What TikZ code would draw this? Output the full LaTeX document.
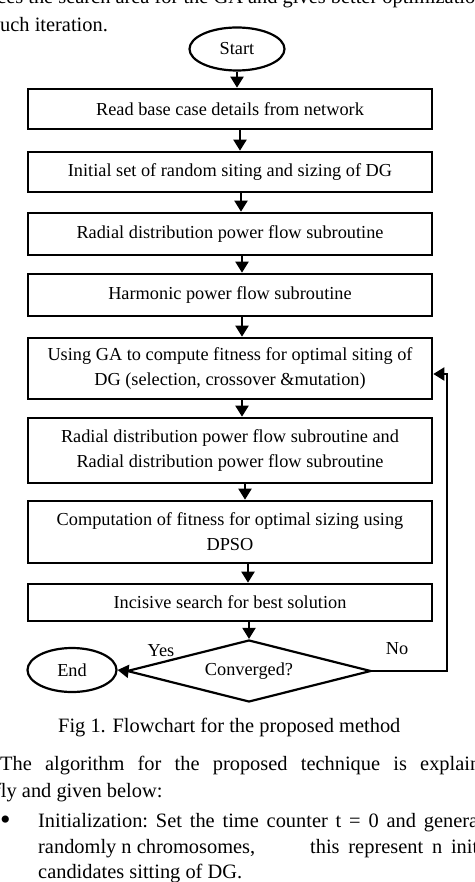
\documentclass[tikz,border=0pt]{standalone}
\usepackage{fontspec}
\setmainfont{Liberation Serif}
\usetikzlibrary{arrows.meta,shapes.geometric}
\tikzset{
  boxtxt/.style={font=\fontsize{18.3}{25}\selectfont},
  body/.style={font=\fontsize{20.4}{26}\selectfont, inner sep=0pt, anchor=base west},
  stepbox/.style={draw, line width=2.6pt, minimum width=404pt, inner sep=0pt, align=center, boxtxt},
  term/.style={draw, ellipse, line width=2.2pt, inner sep=0pt, boxtxt},
  dec/.style={draw, diamond, line width=2.2pt, inner sep=0pt, minimum width=244pt, minimum height=62pt, aspect=3.9, boxtxt},
  arr/.style={line width=2pt, -{Triangle[length=11pt,width=13pt]}},
  lbl/.style={inner sep=0pt, boxtxt}
}
\begin{document}
\begin{tikzpicture}[x=1pt,y=-1pt]
\useasboundingbox (0,0) rectangle (474,882);
\clip (0,0) rectangle (474,882);
\fill[white] (0,0) rectangle (474,882);
% surrounding page text
\node[body] (t1) at (-3,4) {ces the search area for the GA and gives better optimization};
\node[body] (t2) at (0,32) {uch iteration.};
% flowchart
\node[term, minimum width=95pt, minimum height=43pt] (start) at (237,49) {Start};
\node[stepbox, minimum height=40pt] (b1) at (230,109) {Read base case details from network};
\node[stepbox, minimum height=40pt] (b2) at (230,172) {Initial set of random siting and sizing of DG};
\node[stepbox, minimum height=42pt] (b3) at (230,234) {Radial distribution power flow subroutine};
\node[stepbox, minimum height=42pt] (b4) at (230,295) {Harmonic power flow subroutine};
\node[stepbox, minimum height=61pt] (b5) at (230,368.5) {Using GA to compute fitness for optimal siting of\\DG (selection, crossover \&mutation)};
\node[stepbox, minimum height=65pt] (b6) at (230,450.5) {Radial distribution power flow subroutine and\\Radial distribution power flow subroutine};
\node[stepbox, minimum height=62pt] (b7) at (230,532) {Computation of fitness for optimal sizing using\\DPSO};
\node[stepbox, minimum height=37pt] (b8) at (230,602.5) {Incisive search for best solution};
\node[dec] (dia) at (249,671) {Converged?};
\node[term, minimum width=89pt, minimum height=44pt] (end) at (72,670) {End};
\node[lbl] (yes) at (161,651) {Yes};
\node[lbl] (no) at (397,649) {No};
\coordinate (fb) at (447,374);
% connectors
\draw[arr] (start.south) -- (start.south |- b1.north);
\draw[arr] ([xshift=10pt]b1.south) -- ([xshift=10pt]b2.north);
\draw[arr] ([xshift=11pt]b2.south) -- ([xshift=11pt]b3.north);
\draw[arr] ([xshift=12pt]b3.south) -- ([xshift=12pt]b4.north);
\draw[arr] ([xshift=12pt]b4.south) -- ([xshift=12pt]b5.north);
\draw[arr] ([xshift=12pt]b5.south) -- ([xshift=12pt]b6.north);
\draw[arr] ([xshift=15pt]b6.south) -- ([xshift=15pt]b7.north);
\draw[arr] ([xshift=18pt]b7.south) -- ([xshift=18pt]b8.north);
\draw[arr] (b8.south -| dia.north) -- (dia.north);
\draw[arr] (dia.west) -- (end.east);
\draw[arr] (dia.east) -| (fb) -- (fb -| b5.east);
% caption and following text
\node[body] (cap) at (58,732) {Fig 1. Flowchart for the proposed method};
\node[body] (p1) at (0,770) {\hbox to 480pt{The\hfill algorithm\hfill for\hfill the\hfill proposed\hfill technique\hfill is\hfill explain}};
\node[body] (p2) at (-6,797) {fly and given below:};
\node[body] (bul) at (0,829) {{\fontsize{30}{30}\selectfont\textbullet}};
\node[body] (p3) at (38,827) {\hbox to 440pt{Initialization:\hfill Set\hfill the\hfill time\hfill counter\hfill t\hfill =\hfill 0\hfill and\hfill genera}};
\node[body] (p4) at (38,853) {randomly n chromosomes,};
\node[body] (p5) at (310,853) {\hbox to 168pt{this\hfill represent\hfill n\hfill init}};
\node[body] (p6) at (38,878) {candidates sitting of DG.};
\end{tikzpicture}
\end{document}
